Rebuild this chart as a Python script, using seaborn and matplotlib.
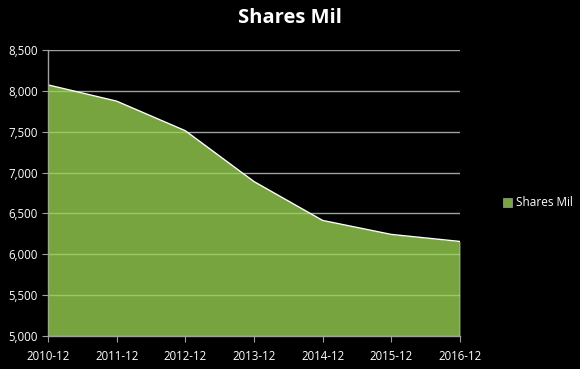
#!/usr/bin/env python3

import numpy as np
import matplotlib as mpl
mpl.use("Agg")
from matplotlib import pyplot as plt
from matplotlib.patches import Patch
import seaborn as sns
import pandas as pd

periods = ["2010-12", "2011-12", "2012-12", "2013-12", "2014-12", "2015-12", "2016-12"]
shares = [8073, 7874, 7512, 6890, 6414, 6243, 6157]
y_ticks = [5000, 5500, 6000, 6500, 7000, 7500, 8000, 8500]

sns.set_style("dark", {"axes.facecolor": "black", "figure.facecolor": "black"})
plt.rcParams['font.family'] = ['Open Sans', 'DejaVu Sans']

df = pd.DataFrame({"period": periods, "shares": shares})
df["pos"] = np.arange(len(df))

fig = plt.figure(figsize=(5.8, 3.69), dpi=100)
ax = fig.add_axes([48 / 580, 1 - 336 / 369, 412 / 580, 286 / 369])
ax.set_facecolor("black")

# grid below the semi-transparent fill so it shows through faintly
for v in y_ticks:
    ax.axhline(v, color="#A0A0A0", lw=1, zorder=0)

ax.fill_between(df["pos"], df["shares"], 5000, color="#99D452", alpha=0.78,
                linewidth=0, zorder=1)
sns.lineplot(data=df, x="pos", y="shares", color="white", lw=1, ax=ax, zorder=2)
ax.plot([df["pos"].iloc[-1]] * 2, [5000, shares[-1]], color="white", lw=1, zorder=2)

ax.set_xlim(0, len(periods) - 1)
ax.set_ylim(5000, 8500)
ax.set_xticks(df["pos"])
ax.set_xticklabels(periods)
ax.set_yticks(y_ticks)
ax.yaxis.set_major_formatter(mpl.ticker.FuncFormatter(lambda v, p: f"{int(v):,}"))
ax.set_xlabel("")
ax.set_ylabel("")
ax.grid(False)

ax.tick_params(colors="#A0A0A0", labelcolor="white", labelsize=8.3, length=4,
               direction="out", bottom=True, left=True)
ax.tick_params(axis="x", pad=6)
for side in ["top", "right"]:
    ax.spines[side].set_visible(False)
for side in ["left", "bottom"]:
    ax.spines[side].set_color("#A0A0A0")
    ax.spines[side].set_linewidth(1)

fig.text(0.5, 0.95, "Shares Mil", color="white", fontsize=14.5, fontweight="bold",
         ha="center", va="center")

handle = Patch(facecolor="#77A540", edgecolor="#A0A0A0", linewidth=0.5)
fig.legend([handle], ["Shares Mil"], loc="center left", bbox_to_anchor=(492 / 580, 1 - 203 / 369),
           frameon=False, labelcolor="white", fontsize=8.5, handlelength=0.8,
           handleheight=0.8, handletextpad=0.3)

fig.savefig("out.png", dpi=100, facecolor="black")
